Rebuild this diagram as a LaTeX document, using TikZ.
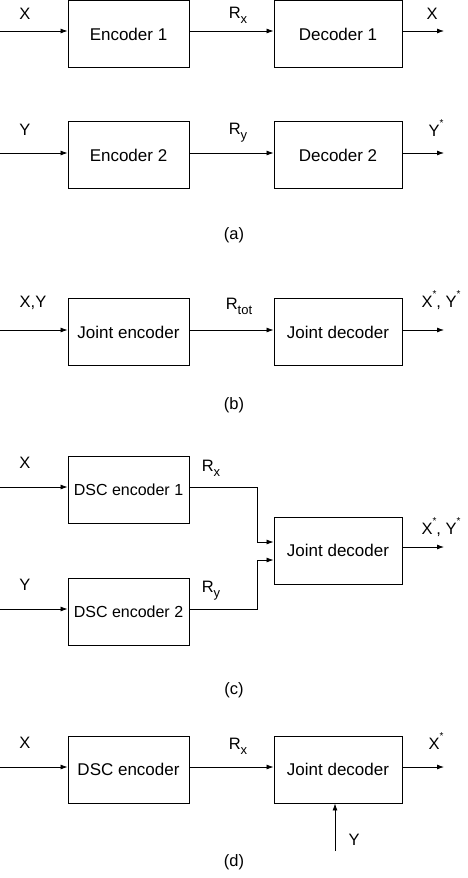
\documentclass[tikz,border=0pt]{standalone}
\usepackage{fontspec}
\setmainfont{Liberation Sans}
\usetikzlibrary{arrows.meta}
\newcommand{\sbs}[1]{\raisebox{-0.55ex}{\fontsize{13}{13}\selectfont #1}}
\newcommand{\sps}{\raisebox{1.1ex}{\fontsize{10}{10}\selectfont *}}
\begin{document}
\begin{tikzpicture}[x=1pt,y=-1pt,
  box/.style={draw,line width=0.9pt,minimum width=121pt,minimum height=67pt,inner sep=0pt,font=\fontsize{17}{19}\selectfont},
  dbox/.style={box,minimum width=128pt},
  sbox/.style={box,font=\fontsize{16}{18}\selectfont},
  arr/.style={-{Latex[length=7pt,width=5pt]},line width=0.8pt},
  lab/.style={inner sep=0pt,font=\fontsize{16.5}{18}\selectfont}]
\useasboundingbox (0,0) rectangle (468,878);
% (a)
\node[box] (enc1) at (128.5,34) {Encoder 1};
\node[dbox] (dec1) at (338,34) {Decoder 1};
\node[box] (enc2) at (128.5,155) {Encoder 2};
\node[dbox] (dec2) at (338,155) {Decoder 2};
\coordinate (i1) at (0,31);
\coordinate (o1) at (444,31);
\coordinate (i2) at (0,153);
\coordinate (o2) at (444,153);
\draw[arr] (i1) -- (enc1.west |- i1);
\draw[arr] (enc1.east |- i1) -- (dec1.west |- i1);
\draw[arr] (dec1.east |- i1) -- (o1);
\draw[arr] (i2) -- (enc2.west |- i2);
\draw[arr] (enc2.east |- i2) -- (dec2.west |- i2);
\draw[arr] (dec2.east |- i2) -- (o2);
\node[lab] (la1) at (25,14) {X};
\node[lab] (la2) at (238,15) {R\sbs{x}};
\node[lab] (la3) at (432,14) {X};
\node[lab] (la4) at (25,130) {Y};
\node[lab] (la5) at (238,133) {R\sbs{y}};
\node[lab] (la6) at (436,128) {Y\sps};
\node[lab] (capa) at (234,235) {(a)};
% (b)
\node[box] (jenc) at (128.5,332) {Joint encoder};
\node[dbox] (jdec) at (338,332) {Joint decoder};
\coordinate (ib) at (0,330);
\coordinate (ob) at (444,330);
\draw[arr] (ib) -- (jenc.west |- ib);
\draw[arr] (jenc.east |- ib) -- (jdec.west |- ib);
\draw[arr] (jdec.east |- ib) -- (ob);
\node[lab] (lb1) at (33,303) {X,Y};
\node[lab] (lb2) at (239,306) {R\sbs{tot}};
\node[lab] (lb3) at (441,300) {X\sps, Y\sps};
\node[lab] (capb) at (234,405) {(b)};
% (c)
\node[sbox] (dsc1) at (128.5,489.5) {DSC encoder 1};
\node[sbox] (dsc2) at (128.5,611.5) {DSC encoder 2};
\node[dbox] (jdecc) at (338,550.5) {Joint decoder};
\coordinate (ic1) at (0,487);
\coordinate (ic2) at (0,609);
\coordinate (k1) at (257,487);
\coordinate (k2) at (257,609);
\coordinate (e1) at (257,542);
\coordinate (e2) at (257,560);
\coordinate (oc) at (444,547);
\draw[arr] (ic1) -- (dsc1.west |- ic1);
\draw[arr] (ic2) -- (dsc2.west |- ic2);
\draw[arr] (dsc1.east |- k1) -- (k1) -- (e1) -- (jdecc.west |- e1);
\draw[arr] (dsc2.east |- k2) -- (k2) -- (e2) -- (jdecc.west |- e2);
\draw[arr] (jdecc.east |- oc) -- (oc);
\node[lab] (lc1) at (25,463) {X};
\node[lab] (lc2) at (211,468) {R\sbs{x}};
\node[lab] (lc3) at (25,585) {Y};
\node[lab] (lc4) at (211,591) {R\sbs{y}};
\node[lab] (lc5) at (441,527) {X\sps, Y\sps};
\node[lab] (capc) at (234,690) {(c)};
% (d)
\node[box] (dscd) at (128.5,769.5) {DSC encoder};
\node[dbox] (jdecd) at (338,769.5) {Joint decoder};
\coordinate (id) at (0,767);
\coordinate (od) at (444,767);
\coordinate (yd) at (335,851);
\draw[arr] (id) -- (dscd.west |- id);
\draw[arr] (dscd.east |- id) -- (jdecd.west |- id);
\draw[arr] (jdecd.east |- id) -- (od);
\draw[arr] (yd) -- (jdecd.south -| yd);
\node[lab] (ld1) at (25,743) {X};
\node[lab] (ld2) at (238,746) {R\sbs{x}};
\node[lab] (ld3) at (436,741) {X\sps};
\node[lab] (ld4) at (354,840) {Y};
\node[lab] (capd) at (234,862) {(d)};
\end{tikzpicture}
\end{document}
